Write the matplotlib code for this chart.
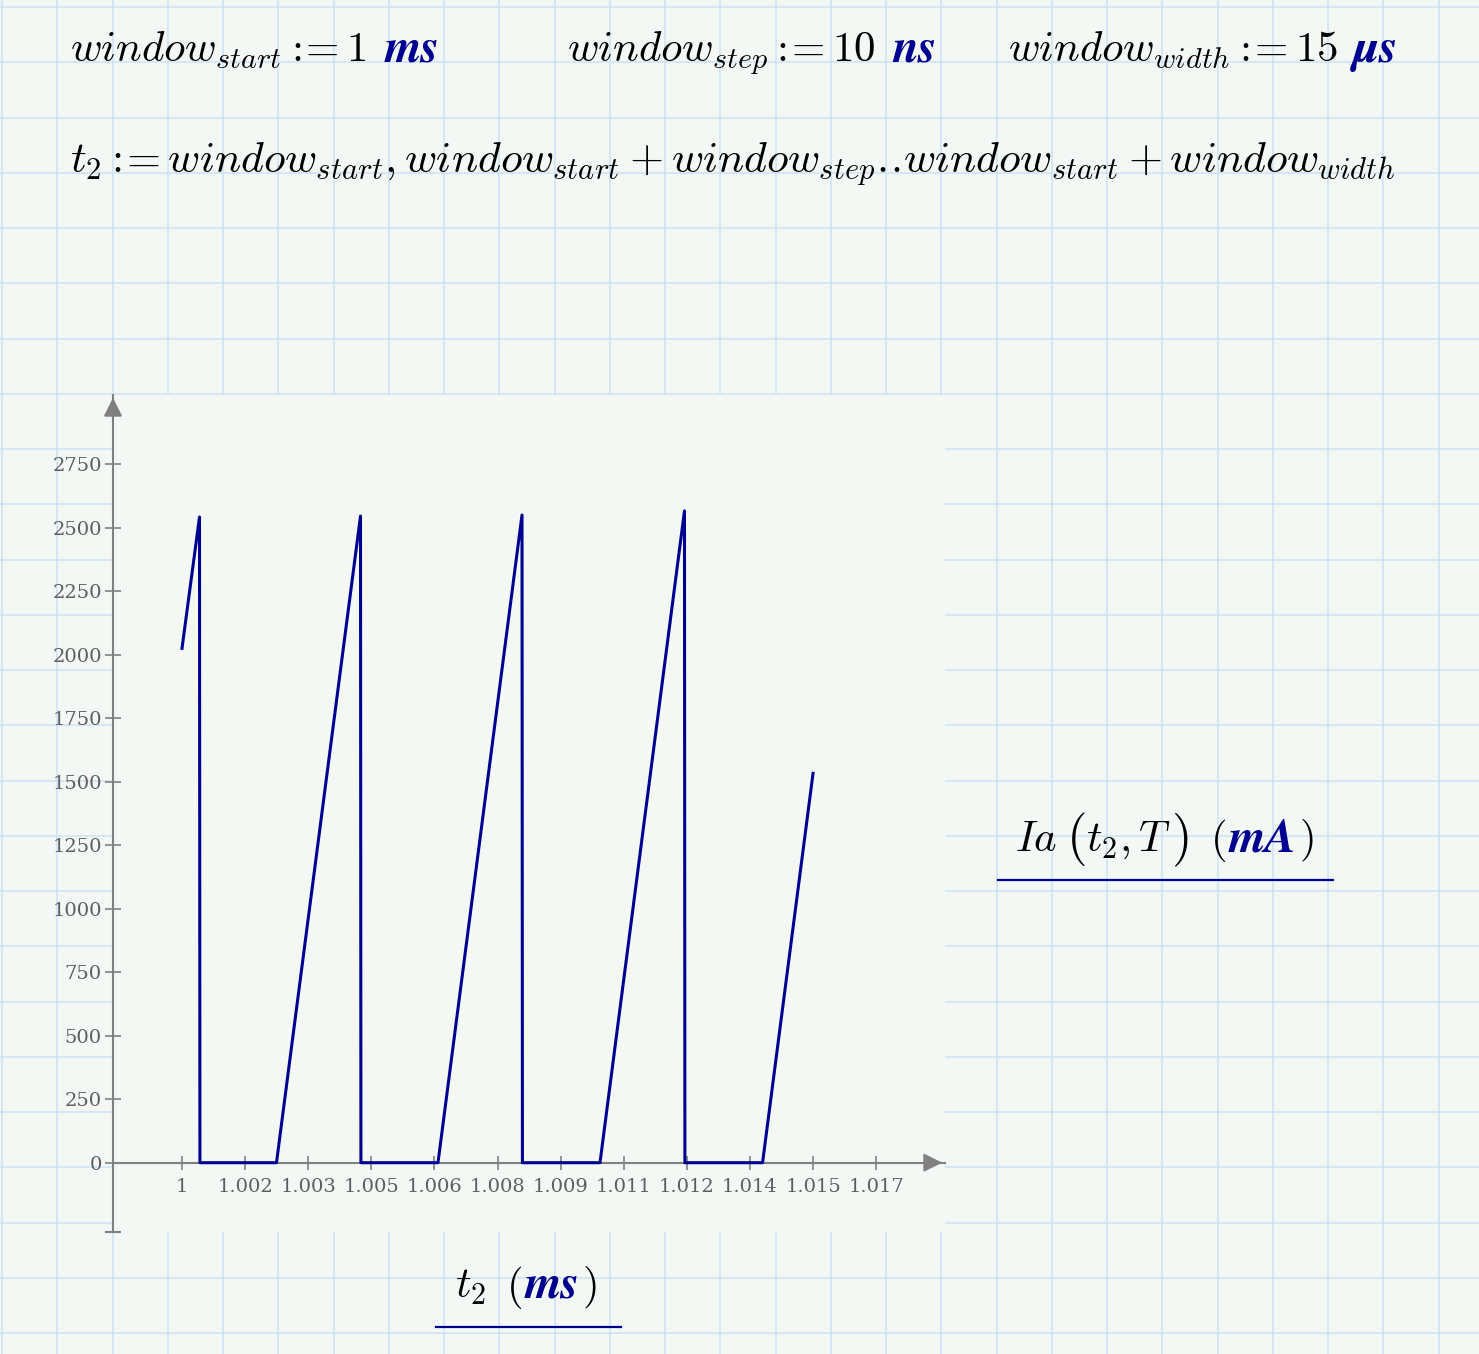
import matplotlib
matplotlib.use('Agg')
import matplotlib.pyplot as plt
import numpy as np

plt.rcParams['mathtext.fontset'] = 'cm'

# sawtooth current Ia(t2, T) (t in ms, Ia in mA)
t_ms = [1.0, 1.000416, 1.000426, 1.002246, 1.004243, 1.004253, 1.006085,
        1.008082, 1.008092, 1.009936, 1.011944, 1.011954, 1.013800, 1.015]
ia_mA = [2025, 2542, 0, 0, 2546, 0, 0,
         2550, 0, 0, 2566, 0, 0, 1533]

x_ticks = [1.0, 1.0015, 1.003, 1.0045, 1.006, 1.0075, 1.009, 1.0105,
           1.012, 1.0135, 1.015, 1.0165]
x_tick_labels = ['1', '1.002', '1.003', '1.005', '1.006', '1.008', '1.009',
                 '1.011', '1.012', '1.014', '1.015', '1.017']
y_ticks = [0, 250, 500, 750, 1000, 1250, 1500, 1750, 2000, 2250, 2500, 2750]
y_tick_labels = [str(v) for v in y_ticks]

W, H = 1479, 1354
bg = '#f4f8f5'
grid = '#cce1f6'
navy = '#000090'
axcol = '#808080'

fig = plt.figure(figsize=(W / 100, H / 100), dpi=100)
fig.patch.set_facecolor(bg)

# worksheet grid
bgax = fig.add_axes([0, 0, 1, 1], zorder=0)
bgax.set_xlim(0, W)
bgax.set_ylim(H, 0)
bgax.axis('off')
for gx in np.arange(2, W, 55.25):
    bgax.axvline(gx, color=grid, lw=1.1)
for gy in np.arange(7, H, 55.25):
    bgax.axhline(gy, color=grid, lw=1.1)

# plot region
L, R, T, B = 113, 945, 395, 1232
ax = fig.add_axes([L / W, 1 - B / H, (R - L) / W, (B - T) / H], zorder=2)
ax.set_facecolor(bg)
px_ms = 42070.0
px_mA = 0.254
xmin = 1 - (182 - L) / px_ms
xmax = xmin + (R - L) / px_ms
ymin = -(B - 1162.7) / px_mA
ymax = (1162.7 - T) / px_mA
ax.set_xlim(xmin, xmax)
ax.set_ylim(ymin, ymax)

ax.plot(t_ms, ia_mA, color=navy, lw=2.2, zorder=3)

for s in ['top', 'right']:
    ax.spines[s].set_visible(False)
ax.spines['bottom'].set_position(('data', 0))
for s in ['bottom', 'left']:
    ax.spines[s].set_color(axcol)
    ax.spines[s].set_linewidth(1.5)

ax.set_xticks(x_ticks)
ax.set_xticklabels(x_tick_labels)
ax.set_yticks(y_ticks)
ax.set_yticklabels(y_tick_labels)
ax.tick_params(axis='x', direction='inout', length=10, width=1.2, color=axcol,
               labelcolor='#5e5e5e', labelsize=14, pad=6)
ax.tick_params(axis='y', direction='inout', length=12, width=1.2, color=axcol,
               labelcolor='#5e5e5e', labelsize=14, pad=2)
for lab in ax.get_xticklabels() + ax.get_yticklabels():
    lab.set_family('DejaVu Serif')

# arrow heads and bottom end of the y axis
ax.annotate('', xy=(xmax, 0), xytext=(xmax - 0.0004, 0),
            arrowprops=dict(arrowstyle='-|>', color=axcol, lw=1.5, mutation_scale=28),
            annotation_clip=False)
ax.annotate('', xy=(xmin, ymax), xytext=(xmin, ymax - 100),
            arrowprops=dict(arrowstyle='-|>', color=axcol, lw=1.5, mutation_scale=28),
            annotation_clip=False)
ax.plot([xmin], [ymin], marker='_', ms=12, mew=1.5, color=axcol, clip_on=False)

# worksheet text
rend = fig.canvas.get_renderer()
unit = dict(family='STIXGeneral', weight='bold', style='italic', color=navy, fontsize=34)


def put(x, y, s, **kw):
    kw.setdefault('fontsize', 31)
    t = fig.text(x / W, 1 - y / H, s, ha='left', va='baseline', **kw)
    return t.get_window_extent(renderer=rend).x1


x = put(70, 62, r'$window_{start}:\!\!=1$')
put(x + 18, 62, 'ms', **unit)
x = put(567, 62, r'$window_{step}:\!\!=10$')
put(x + 17, 62, 'ns', **unit)
x = put(1008, 62, r'$window_{width}:\!\!=15$')
put(x + 15, 62, 'µs', **unit)

put(70, 173, r'$t_2:\!\!=window_{start},window_{start}+window_{step}.\!.\!'
             r'window_{start}+window_{width}$', fontsize=31.5)

put(1015, 851, r'$Ia$')
put(1066, 853, r'$($', fontsize=38)
x = put(1086, 851, r'$t_2,T$')
put(x, 853, r'$)$', fontsize=38)
x = put(1210, 851, r'$($')
x = put(x + 2, 851, 'mA', **unit)
put(x + 3, 851, r'$)$')
bgax.plot([998, 1333], [880, 880], color=navy, lw=1.6)

x = put(455, 1298, r'$t_2$')
x = put(x + 20, 1298, r'$($')
x = put(x + 2, 1298, 'ms', **unit)
put(x + 3, 1298, r'$)$')
bgax.plot([436, 621], [1327, 1327], color=navy, lw=1.6)

fig.savefig('out.png', dpi=100, facecolor=bg)
